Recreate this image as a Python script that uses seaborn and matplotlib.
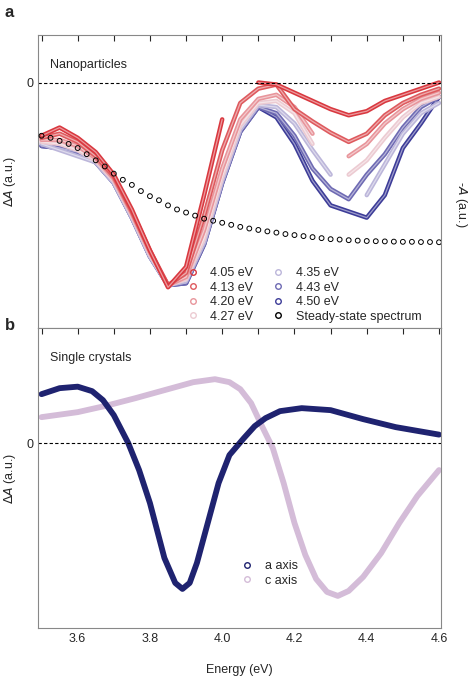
import numpy as np
import pandas as pd
import matplotlib
matplotlib.use("Agg")
import matplotlib.pyplot as plt
from matplotlib.lines import Line2D
import seaborn as sns

sns.set_style("white")
plt.rcParams['font.family'] = ['Liberation Sans', 'DejaVu Sans']

energy = [3.50, 3.55, 3.60, 3.65, 3.70, 3.75, 3.80, 3.85, 3.90, 3.95, 4.00, 4.05,
          4.10, 4.15, 4.20, 4.25, 4.30, 4.35, 4.40, 4.45, 4.50, 4.55, 4.60]
nan = np.nan
pump_labels = ["4.05 eV", "4.13 eV", "4.20 eV", "4.27 eV", "4.35 eV", "4.43 eV", "4.50 eV"]
pump_colors = ["#d9383f", "#de5a5e", "#e8959b", "#eccbd2", "#bcb6da", "#6e6ab3", "#3d3c98"]
s405 = [-0.26, -0.22, -0.27, -0.34, -0.45, -0.62, -0.82, -1.00, -0.90, -0.55, -0.18, nan,
        0.00, -0.01, -0.05, -0.09, -0.13, -0.16, -0.14, -0.09, -0.06, -0.03, 0.00]
s413 = [-0.27, -0.25, -0.29, -0.36, -0.46, -0.63, -0.82, -0.99, -0.93, -0.65, -0.33, -0.10,
        -0.03, -0.01, -0.13, -0.19, -0.245, -0.29, -0.25, -0.16, -0.10, -0.06, -0.03]
s420 = [-0.28, -0.28, -0.31, -0.37, -0.47, -0.64, -0.83, -0.99, -0.95, -0.72, -0.42, -0.18,
        -0.08, -0.06, -0.12, -0.25, nan, -0.36, -0.30, -0.20, -0.13, -0.08, -0.05]
s427 = [-0.29, -0.30, -0.33, -0.38, -0.48, -0.65, -0.84, -0.99, -0.96, -0.76, -0.46, -0.21,
        -0.10, -0.09, -0.15, -0.30, nan, -0.45, -0.38, -0.27, -0.17, -0.10, -0.07]
s435 = [-0.30, -0.33, -0.36, -0.39, -0.49, -0.66, -0.85, -0.99, -0.97, -0.78, -0.48, -0.23,
        -0.11, -0.12, -0.20, -0.33, -0.45, nan, -0.55, -0.40, -0.25, -0.15, -0.10]
s443 = [-0.31, -0.32, -0.34, -0.39, -0.49, -0.66, -0.85, -0.99, -0.98, -0.79, -0.49, -0.24,
        -0.12, -0.15, -0.26, -0.42, -0.52, -0.57, -0.45, -0.35, -0.22, -0.12, -0.07]
s450 = [-0.31, -0.32, -0.34, -0.39, -0.49, -0.66, -0.85, -0.99, -0.98, -0.79, -0.49, -0.24,
        -0.12, -0.17, -0.30, -0.48, -0.60, -0.63, -0.66, -0.55, -0.32, -0.20, -0.07]
pump_series = [s405, s413, s420, s427, s435, s443, s450]

steady_energy = [3.500 + 0.025 * i for i in range(45)]
steady = [-0.26, -0.27, -0.285, -0.30, -0.32, -0.35, -0.38, -0.41, -0.445, -0.475, -0.50,
          -0.53, -0.555, -0.575, -0.60, -0.62, -0.635, -0.65, -0.665, -0.675, -0.685, -0.695,
          -0.705, -0.713, -0.72, -0.727, -0.733, -0.74, -0.745, -0.75, -0.755, -0.76, -0.765,
          -0.767, -0.77, -0.772, -0.774, -0.775, -0.776, -0.777, -0.778, -0.778, -0.779, -0.779, -0.78]

energy_a = [3.50, 3.55, 3.60, 3.64, 3.67, 3.70, 3.74, 3.77, 3.80, 3.84, 3.87, 3.89, 3.91,
            3.93, 3.96, 3.99, 4.02, 4.06, 4.09, 4.12, 4.16, 4.22, 4.30, 4.39, 4.48, 4.60]
a_axis = [0.49, 0.55, 0.565, 0.52, 0.43, 0.28, 0.0, -0.27, -0.60, -1.15, -1.40, -1.46, -1.40,
          -1.20, -0.80, -0.40, -0.12, 0.05, 0.17, 0.25, 0.32, 0.35, 0.33, 0.24, 0.16, 0.085]
energy_c = [3.50, 3.60, 3.68, 3.76, 3.84, 3.92, 3.98, 4.02, 4.05, 4.08, 4.11, 4.14, 4.17,
            4.20, 4.23, 4.26, 4.29, 4.32, 4.35, 4.39, 4.44, 4.49, 4.54, 4.60]
c_axis = [0.26, 0.31, 0.375, 0.45, 0.53, 0.61, 0.64, 0.61, 0.54, 0.40, 0.17, -0.05, -0.40,
          -0.80, -1.12, -1.36, -1.49, -1.53, -1.48, -1.34, -1.10, -0.80, -0.53, -0.27]

fig = plt.figure(figsize=(4.74, 6.81), dpi=100)
ax1 = fig.add_axes([0.080, 0.518, 0.850, 0.430])
ax2 = fig.add_axes([0.080, 0.078, 0.850, 0.440])

for lab, col, ser in reversed(list(zip(pump_labels, pump_colors, pump_series))):
    arr = np.array(ser, dtype=float)
    e = np.array(energy)
    idx = np.where(np.isnan(arr))[0]
    bounds = [-1] + list(idx) + [len(arr)]
    for i in range(len(bounds) - 1):
        seg = slice(bounds[i] + 1, bounds[i + 1])
        df = pd.DataFrame({"E": e[seg], "y": arr[seg]})
        if len(df) > 1:
            sns.lineplot(data=df, x="E", y="y", ax=ax1, color=col, lw=3.2, sort=False)
            sns.lineplot(data=df, x="E", y="y", ax=ax1, color="white", lw=0.9, sort=False, alpha=0.5)
sns.scatterplot(x=steady_energy, y=steady, ax=ax1, marker="o", s=12, facecolor="none",
                edgecolor="black", linewidth=0.7, zorder=5)
ax1.axhline(0, color="black", ls="--", lw=0.8, dashes=(3, 2))
ax1.set_xlim(3.49, 4.605)
ax1.set_ylim(-1.2, 0.23)
ax1.set_yticks([0]); ax1.set_yticklabels(["0"])
ax1.set_xticks(np.arange(3.5, 4.61, 0.1)); ax1.set_xticklabels([])
ax1.tick_params(direction="in", top=True, length=4, width=0.8, labelsize=9)
ax1.set_ylabel(r"$\Delta$$\it{A}$ (a.u.)", fontsize=9, labelpad=6)
ax1.set_xlabel("")
ax1.text(0.03, 0.89, "Nanoparticles", transform=ax1.transAxes, fontsize=9)
handles = [Line2D([], [], ls="none", marker="o", mfc="none", mec=c, ms=4) for c in pump_colors]
handles.append(Line2D([], [], ls="none", marker="o", mfc="none", mec="black", ms=4))
ax1.legend(handles, pump_labels + ["Steady-state spectrum"], ncol=2, loc="lower right",
           bbox_to_anchor=(0.98, -0.02), frameon=False, fontsize=9, handletextpad=0.4,
           columnspacing=1.0, labelspacing=0.2)

sns.lineplot(x=energy_c, y=c_axis, ax=ax2, color="#d4bcd8", lw=4.2)
sns.lineplot(x=energy_a, y=a_axis, ax=ax2, color="#1f2370", lw=4.2)
ax2.axhline(0, color="black", ls="--", lw=0.8, dashes=(3, 2))
ax2.set_xlim(3.49, 4.605)
ax2.set_ylim(-1.85, 1.15)
ax2.set_yticks([0]); ax2.set_yticklabels(["0"])
xt = np.arange(3.5, 4.61, 0.1)
ax2.set_xticks(xt)
ax2.set_xticklabels(["" if i % 2 == 0 else f"{v:.1f}" for i, v in enumerate(xt)])
ax2.tick_params(direction="in", top=True, length=4, width=0.8, labelsize=9)
ax2.set_ylabel(r"$\Delta$$\it{A}$ (a.u.)", fontsize=9, labelpad=6)
ax2.set_xlabel("Energy (eV)", fontsize=9, labelpad=14)
ax2.text(0.03, 0.89, "Single crystals", transform=ax2.transAxes, fontsize=9)
h2 = [Line2D([], [], ls="none", marker="o", mfc="none", mec="#1f2370", ms=4),
      Line2D([], [], ls="none", marker="o", mfc="none", mec="#d4bcd8", ms=4)]
ax2.legend(h2, ["a axis", "c axis"], loc="lower left", bbox_to_anchor=(0.46, 0.1),
           frameon=False, fontsize=9, handletextpad=0.4, labelspacing=0.2)

for ax in (ax1, ax2):
    for s in ax.spines.values():
        s.set_color("#888888"); s.set_linewidth(0.8)

fig.text(0.955, 0.70, r"-$\it{A}$ (a.u.)", rotation=270, fontsize=9, va="center")
fig.text(0.01, 0.975, "a", fontsize=12, fontweight="bold")
fig.text(0.01, 0.515, "b", fontsize=12, fontweight="bold")
fig.savefig("out.png", dpi=100)
